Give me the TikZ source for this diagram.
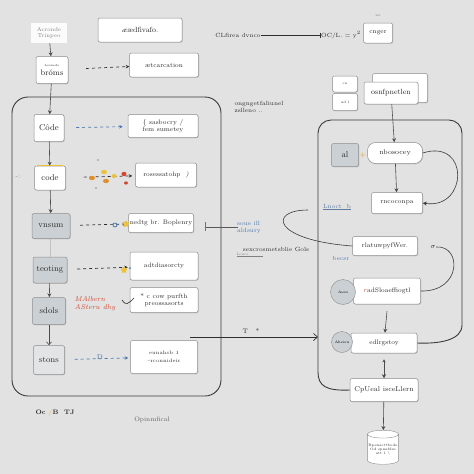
\documentclass[tikz,border=0pt]{standalone}
\usetikzlibrary{arrows.meta,shapes.geometric,shadows}
\definecolor{bg}{HTML}{E2E2E2}
\definecolor{frm}{HTML}{3A3A3A}
\definecolor{bd}{HTML}{8C8C8C}
\definecolor{gfill}{HTML}{CBD0D4}
\definecolor{lfill}{HTML}{E2E4E6}
\definecolor{tx}{HTML}{2E2E2E}
\definecolor{bl}{HTML}{4A78B0}
\definecolor{org}{HTML}{E0902A}
\definecolor{rd}{HTML}{D04A30}
\definecolor{yl}{HTML}{EBC23A}
\tikzset{
  wbox/.style={draw=bd, fill=white, rounded corners=2pt, line width=0.5pt, inner sep=1pt, align=center, text=tx,
    font=\fontsize{6.5}{7.5}\selectfont, drop shadow={opacity=0.25,shadow xshift=0.8pt,shadow yshift=-0.8pt}},
  gbox/.style={wbox, fill=gfill},
  colbox/.style={font=\fontsize{8.5}{9.5}\selectfont},
  bigframe/.style={draw=frm, line width=0.9pt},
  arr/.style={draw=gray!60!black, line width=0.6pt, -{Stealth[length=4pt,width=4pt]}},
  deco/.style={line width=0.7pt, dashed, -{Stealth[length=3.5pt,width=3.5pt]}},
  lbl/.style={text=tx, font=\fontsize{6}{7}\selectfont, inner sep=0.5pt, align=left},
  tinytxt/.style={text=gray, font=\fontsize{3.5}{4}\selectfont, inner sep=0.3pt, align=center},
  conn/.style={draw=frm, line width=0.8pt},
}
\begin{document}
\begin{tikzpicture}[x=1pt,y=-1pt]
\fill[bg] (0,0) rectangle (474,474);
\useasboundingbox (0,0) rectangle (474,474);

% ---------------- top left ----------------
\node[lbl, fill=white!85!bg, text=gray, align=center, minimum width=36pt, minimum height=20pt, font=\fontsize{5.5}{6.5}\selectfont] (t0) at (49,33) {Acronde\\Trinpeo};
\node[wbox, minimum width=32pt, minimum height=27pt] (brome) at (52,70)
  {{\fontsize{3}{3}\selectfont Leonedo}\\[2pt]{\fontsize{8}{9}\selectfont bróms}};
\node[wbox, minimum width=84pt, minimum height=24pt] (aedf) at (140,30) {{\fontsize{7.5}{8}\selectfont \textit{æ}ædfivafo.}};
\node[wbox, minimum width=69pt, minimum height=24pt] (aetc) at (164,65) {ætcarcation};
\draw[arr] (t0) -- (brome);
\draw[deco, draw=tx, shorten <=18pt] (brome) -- (aetc);

% ---------------- top middle / right ----------------
\node[lbl] (cl) at (238,35) {CLfirea dvnco};
\node[lbl] (oc) at (341,35) {OC/L. = y$^2$};
\draw[line width=0.6pt, draw=tx, -{Bar[width=5pt]}] (cl) -- (oc);
\node[tinytxt] (ws) at (378,16) {ws};
\node[wbox, minimum width=29pt, minimum height=20pt] (cnger) at (378,33) {cnger};

\node[wbox, minimum width=25pt, minimum height=16pt] (sb1) at (345,84) {\fontsize{3.5}{4}\selectfont ca};
\node[wbox, minimum width=25pt, minimum height=17pt] (sb2) at (345,102) {\fontsize{3.5}{4}\selectfont ad l};
\node[wbox, minimum width=55pt, minimum height=29pt] (osnfb) at (400,88) {};
\node[wbox, minimum width=54pt, minimum height=22pt] (osnf) at (391,93) {{\fontsize{7.5}{8}\selectfont osnfpnetlen}};
\node[lbl] (ongn) at (259,107) {ongngetfaliunel\\zslleno ..};

% ---------------- left frame ----------------
\draw[bigframe, rounded corners=16pt] (12,97) rectangle (221,396);
\node[lbl, text=gray] (dots) at (18,177) {-:};

\node[wbox, colbox, minimum width=30pt, minimum height=27pt] (code1) at (49,128) {Côde};
\node[wbox, colbox, minimum width=31pt, minimum height=24pt] (code2) at (50,178) {code};
\draw[yl, line width=1.2pt] ([xshift=3pt]code2.north west) -- ([xshift=-3pt]code2.north east);
\node[gbox, colbox, minimum width=38pt, minimum height=25pt] (vnsum) at (51,226) {vnsum};
\node[gbox, colbox, minimum width=34pt, minimum height=26pt] (teot) at (50,270) {teoting};
\node[gbox, colbox, minimum width=33pt, minimum height=27pt] (sdols) at (49,311) {sdols};
\node[wbox, colbox, fill=lfill, minimum width=31pt, minimum height=29pt] (stons) at (49,360) {stons};

\draw[arr] (brome) -- (code1);
\draw[arr] (code1) -- (code2);
\draw[arr] (code2) -- (vnsum);
\draw[draw=gray!60, line width=0.5pt] (vnsum) -- (teot);
\draw[arr] (teot) -- (sdols);
\draw[arr, -{Straight Barb[length=3pt,width=5pt]}] (sdols) -- (stons);

\node[wbox, minimum width=70pt, minimum height=23pt] (r1) at (163,126) {\{ sasbocry /\\fem sumetey};
\node[wbox, minimum width=61pt, minimum height=24pt] (r2) at (166,175) {rosessatohp \ \textit{)}};
\node[wbox, minimum width=65pt, minimum height=19pt] (r3) at (161,223) {nedtg br. Boplenry};
\node[wbox, minimum width=68pt, minimum height=28pt] (r4) at (164,266) {adtdiasorcty};
\node[wbox, minimum width=68pt, minimum height=25pt] (r5) at (164,300) {* c cow purfth\\preossasorts};
\node[wbox, minimum width=67pt, minimum height=33pt] (r6) at (164,357) {{\fontsize{5}{6}\selectfont eunahsb 1}\\{\fontsize{5}{6}\selectfont \textasciitilde rconnideir}};

% row connectors and decorations
\draw[deco, bl, shorten <=12pt, shorten >=5pt] (code1) -- (r1);
\draw[deco, tx, shorten <=18pt, shorten >=3pt] (code2) -- (r2);
\fill[org] (92,178) ellipse (3pt and 2.2pt);
\fill[yl] (104,172) ellipse (3pt and 2.2pt);
\fill[org] (106,181) ellipse (3pt and 2.2pt);
\fill[yl] (114,176) ellipse (2.5pt and 2pt);
\fill[rd] (124,174) ellipse (2.6pt and 2.2pt);
\fill[rd] (126,183) ellipse (2pt and 1.6pt);
\fill[tx] (98,160) circle (0.6pt);
\fill[tx] (96,188) circle (0.6pt);

\draw[deco, tx, shorten <=10pt, shorten >=2pt] (vnsum) -- (r3);
\node[circle, draw=bl, line width=0.8pt, inner sep=0pt, minimum size=4pt] (bc3) at (115,225) {};
\node[star, star points=5, fill=yl, inner sep=0pt, minimum size=7pt] (st3) at (126,224) {};

\draw[deco, tx, shorten <=10pt, shorten >=2pt] (teot) -- (r4);
\node[star, star points=5, fill=yl, inner sep=0pt, minimum size=7pt] (st4) at (124,270) {};
\node[circle, fill=bl, inner sep=0pt, minimum size=2pt] (bc4) at (130,268) {};

\node[lbl, text=rd, font=\fontsize{7}{8}\selectfont\itshape] (malb) at (95,304) {MAlbern\\ASteru dhy};
\draw[tx, line width=0.6pt] (122,300) .. controls (126,306) and (128,304) .. (134,298);
\draw[deco, bl, shorten <=10pt, shorten >=2pt] (stons) -- (r6);
\node[lbl, text=bl, font=\fontsize{7}{8}\selectfont] (dd) at (100,357) {D};

% connectors leaving the left frame
\coordinate (lr3a) at (205,227);
\coordinate (lr3b) at (238,227);
\draw[draw=gray!70!black, line width=0.6pt] (lr3a) -- (lr3b);
\draw[bl, line width=0.8pt] (205,222) -- (205,231);
\node[lbl, text=bl] (soue) at (249,228) {soue ill\\aldsury};

\node[lbl] (sexc) at (276,249) {sexcrosmetsblie Gols};
\node[tinytxt] (louc) at (250,255) {\underline{Loucs\ \ \ \ \ \ \ \ \ }};

\coordinate (m1) at (190,337);
\coordinate (m2) at (318,337);
\draw[line width=0.7pt, draw=tx, -{Straight Barb[length=4pt,width=7pt]}] (m1) -- (m2);
\node[lbl, font=\fontsize{6.5}{7}\selectfont] (tt) at (251,331) {T\ \ \ *};

% ---------------- right part ----------------
\node[gbox, colbox, minimum width=27pt, minimum height=23pt] (al) at (345,155) {al};
\node[wbox, minimum width=55pt, minimum height=21pt, rounded corners=8pt] (nbos) at (395,153) {{\fontsize{7}{8}\selectfont nbosocey}};
\node[lbl, text=org, font=\fontsize{8}{8}\selectfont] (plus) at (363,155) {+};
\node[wbox, minimum width=51pt, minimum height=21pt] (rnco) at (397,203) {rncoconpa};
\node[lbl, text=bl!60!gray] (lnoct) at (337,207) {\underline{Lnoct\ \ b}};
\node[lbl, text=org] (lnm) at (350,209) {\textit{,}};
\node[wbox, minimum width=65pt, minimum height=19pt] (rlat) at (385,246) {rlatuwpyfWer.};
\node[lbl, text=bl] (becsr) at (341,258) {becsr};
\node[wbox, minimum width=67pt, minimum height=26pt] (r7) at (387,291) {\textcolor{rd}{\textit{r}}adSloaeffiogtl};
\node[circle, draw=bd, fill=gfill, minimum size=25pt, inner sep=0pt, font=\fontsize{3.5}{4}\selectfont] (c1) at (343,292) {Aesn};
\node[wbox, minimum width=66pt, minimum height=20pt] (r8) at (384,343) {edlrgstoy};
\node[circle, draw=bd, fill=gfill, minimum size=21pt, inner sep=0pt, font=\fontsize{3.5}{4}\selectfont] (c2) at (342,342) {Ahsion};
\node[wbox, minimum width=68pt, minimum height=23pt] (r9) at (384,390) {{\fontsize{7}{8}\selectfont CpUeal isceLlern}};
\node[cylinder, shape border rotate=90, aspect=0.25, draw=bd, fill=white, minimum width=30pt, minimum height=34pt,
  inner sep=1pt, align=center, text=tx, font=\fontsize{3.5}{4}\selectfont] (db) at (383,450) {Rpenacttbedo\\Od spnafdse\\att 1 \textbackslash};
\node[lbl, font=\fontsize{7}{8}\selectfont] (sig) at (433,247) {$\sigma$};

% right frame
\draw[bigframe] (r9.west) .. controls (326,391) and (318,386) .. (318,372)
  [rounded corners=13pt] -- (318,120) -- (462,120) -- (462,312)
  [sharp corners] .. controls (462,340) and (440,344) .. (r8.east);

% right connectors
\draw[arr] (osnf) -- (nbos);
\draw[arr] (nbos) -- (rnco);
\draw[conn, line width=0.6pt, -{Stealth[length=4pt,width=4pt]}] (nbos.east) .. controls (470,138) and (468,210) .. (rnco.east);
\coordinate (lc) at (308,210);
\draw[conn, line width=0.6pt] (lc) .. controls (268,210) and (272,240) .. (rlat.west);
\draw[conn, line width=0.6pt] (sig.east) .. controls (462,245) and (462,292) .. (r7.east);
\draw[arr] ([yshift=-7pt]r7.south) -- (r8);
\draw[arr, {Stealth[length=3pt,width=3pt]}-{Stealth[length=4pt,width=4pt]}, shorten <=6pt] (r8) -- (r9);
\draw[arr] (r9) -- (db);

% ---------------- bottom texts ----------------
\node[lbl, font=\fontsize{6.5}{7}\selectfont\bfseries] (ocb) at (55,413) {Oc \textcolor{yl}{/}B\ \ TJ};
\node[lbl, text=gray!80!black, font=\fontsize{6.5}{7}\selectfont] (opin) at (152,420) {Opinmfical};
\end{tikzpicture}
\end{document}
